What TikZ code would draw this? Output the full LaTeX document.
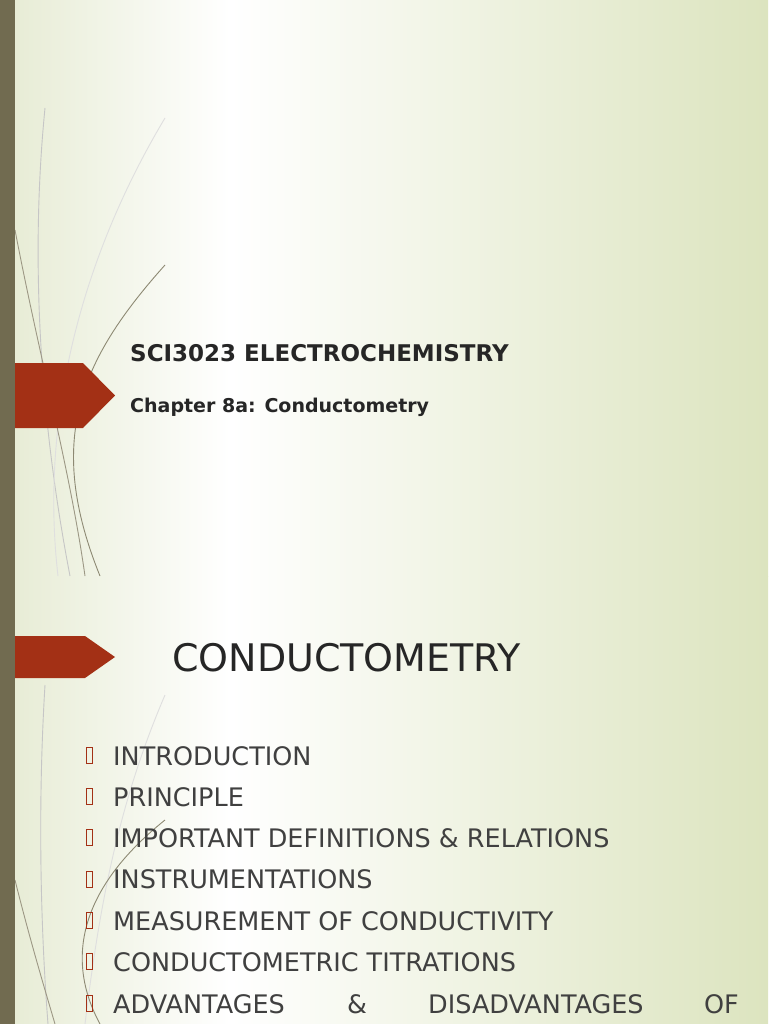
\documentclass[tikz,border=0pt]{standalone}
\usepackage{fontspec}
\setmainfont{DejaVu Sans}
\definecolor{olive}{HTML}{716B50}
\definecolor{rust}{HTML}{A33015}
\definecolor{bgg}{HTML}{DCE4BF}
\definecolor{bgl}{HTML}{E6EBD3}
\definecolor{txt}{HTML}{404040}
\definecolor{ttl}{HTML}{262626}
\tikzset{
  arrowtag/.style={fill=rust,draw=none},
  deco/.style={line width=0.9pt},
  item/.style={anchor=base west,inner sep=0pt,text=txt,font=\fontsize{25.5}{25.5}\selectfont},
  bul/.style={draw=rust,line width=0.7pt}
}
\begin{document}
\begin{tikzpicture}[x=1pt,y=-1pt]
\useasboundingbox (0,0) rectangle (768,1024);
\foreach \ya/\yb in {0/576,576/1024}{
  \shade[left color=bgl,right color=white] (0,\ya) rectangle (230,\yb);
  \shade[left color=white,right color=bgg] (230,\ya) rectangle (768,\yb);
}
\begin{scope}
\clip (15,0) rectangle (768,576);
\draw[deco,color=gray!45] (45,108) .. controls (30,260) and (40,420) .. (70,576);
\draw[deco,color=gray!25] (165,118) .. controls (80,260) and (40,420) .. (58,576);
\draw[deco,color=olive!80] (165,265) .. controls (80,360) and (45,440) .. (100,576);
\draw[deco,color=olive!70] (15,230) .. controls (40,360) and (70,470) .. (85,576);
\end{scope}
\begin{scope}
\clip (15,576) rectangle (768,1024);
\draw[deco,color=gray!45] (45,685) .. controls (38,800) and (40,920) .. (48,1024);
\draw[deco,color=gray!25] (165,695) .. controls (120,800) and (100,900) .. (85,1024);
\draw[deco,color=olive!80] (165,820) .. controls (90,880) and (60,950) .. (100,1024);
\draw[deco,color=olive!70] (15,880) .. controls (30,940) and (45,990) .. (55,1024);
\end{scope}
\fill[arrowtag] (0,363) -- (83,363) -- (115,395.5) -- (83,428) -- (0,428) -- cycle;
\fill[arrowtag] (0,636) -- (85,636) -- (115,657) -- (85,678) -- (0,678) -- cycle;
\fill[olive] (0,0) rectangle (15,1024);
\node[anchor=base west,inner sep=0pt,text=ttl,font=\bfseries\fontsize{23}{23}\selectfont] (t1) at (130,361) {SCI3023 ELECTROCHEMISTRY};
\node[anchor=base west,inner sep=0pt,text=ttl,font=\bfseries\fontsize{19}{19}\selectfont] (t2) at (130,412) {Chapter 8a: Conductometry};
\node[anchor=base west,inner sep=0pt,text=ttl,font=\fontsize{38}{38}\selectfont] (t3) at (172,671) {CONDUCTOMETRY};
\foreach \i/\t in {0/INTRODUCTION,1/PRINCIPLE,2/IMPORTANT DEFINITIONS \& RELATIONS,3/INSTRUMENTATIONS,4/MEASUREMENT OF CONDUCTIVITY,5/CONDUCTOMETRIC TITRATIONS}{
  \node[item] (l\i) at (113,765+41.3*\i) {\t};
  \draw[bul] (86,{747+41.3*\i}) rectangle (92,{763+41.3*\i});
}
\draw[bul] (86,995) rectangle (92,1011);
\node[item] (l6a) at (113,1013) {ADVANTAGES};
\node[item] (l6b) at (347,1013) {\&};
\node[item] (l6c) at (428,1013) {DISADVANTAGES};
\node[item,anchor=base east] (l6d) at (739,1013) {OF};
\end{tikzpicture}
\end{document}
